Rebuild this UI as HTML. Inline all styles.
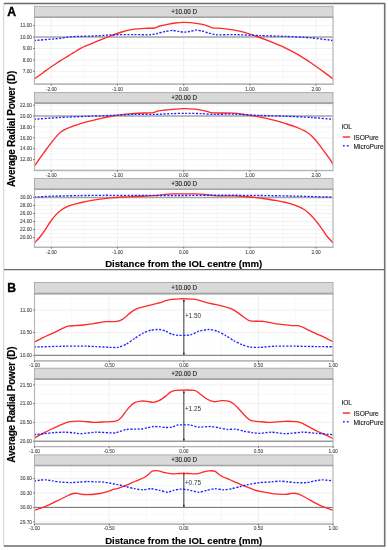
<!DOCTYPE html>
<html><head><meta charset="utf-8"><title>Average Radial Power</title>
<style>
html,body{margin:0;padding:0;background:#fff;}
body{width:388px;height:550px;overflow:hidden;}
svg{display:block;font-family:"Liberation Sans",Arial,sans-serif;}
</style></head><body>
<svg width="388" height="550" viewBox="0 0 388 550">
<rect width="388" height="550" fill="#fff"/>

<line x1="3.6" y1="3" x2="3.6" y2="546" stroke="#dcdcdc" stroke-width="1.4"/>
<line x1="4" y1="3.5" x2="385" y2="3.5" stroke="#6a6a6a" stroke-width="1.3"/>
<line x1="384.7" y1="3" x2="384.7" y2="546.5" stroke="#707070" stroke-width="1.6"/>
<line x1="4" y1="269.6" x2="385" y2="269.6" stroke="#6a6a6a" stroke-width="1.4"/>
<line x1="4" y1="546" x2="385" y2="546" stroke="#6a6a6a" stroke-width="1.4"/>

<g id="A1">
<clipPath id="cA1"><rect x="34.50" y="17.20" width="298.50" height="66.90"/></clipPath>
<g clip-path="url(#cA1)"><line x1="84.40" y1="17.20" x2="84.40" y2="84.10" stroke="#f4f4f4" stroke-width="0.6"/><line x1="150.60" y1="17.20" x2="150.60" y2="84.10" stroke="#f4f4f4" stroke-width="0.6"/><line x1="216.80" y1="17.20" x2="216.80" y2="84.10" stroke="#f4f4f4" stroke-width="0.6"/><line x1="283.00" y1="17.20" x2="283.00" y2="84.10" stroke="#f4f4f4" stroke-width="0.6"/><line x1="34.50" y1="65.60" x2="333.00" y2="65.60" stroke="#f4f4f4" stroke-width="0.6"/><line x1="34.50" y1="54.20" x2="333.00" y2="54.20" stroke="#f4f4f4" stroke-width="0.6"/><line x1="34.50" y1="42.80" x2="333.00" y2="42.80" stroke="#f4f4f4" stroke-width="0.6"/><line x1="34.50" y1="31.40" x2="333.00" y2="31.40" stroke="#f4f4f4" stroke-width="0.6"/><line x1="34.50" y1="20.00" x2="333.00" y2="20.00" stroke="#f4f4f4" stroke-width="0.6"/><line x1="34.50" y1="77.00" x2="333.00" y2="77.00" stroke="#f4f4f4" stroke-width="0.6"/><line x1="51.30" y1="17.20" x2="51.30" y2="84.10" stroke="#ececec" stroke-width="0.8"/><line x1="117.50" y1="17.20" x2="117.50" y2="84.10" stroke="#ececec" stroke-width="0.8"/><line x1="183.70" y1="17.20" x2="183.70" y2="84.10" stroke="#ececec" stroke-width="0.8"/><line x1="249.90" y1="17.20" x2="249.90" y2="84.10" stroke="#ececec" stroke-width="0.8"/><line x1="316.10" y1="17.20" x2="316.10" y2="84.10" stroke="#ececec" stroke-width="0.8"/><line x1="34.50" y1="71.30" x2="333.00" y2="71.30" stroke="#ececec" stroke-width="0.8"/><line x1="34.50" y1="59.90" x2="333.00" y2="59.90" stroke="#ececec" stroke-width="0.8"/><line x1="34.50" y1="48.50" x2="333.00" y2="48.50" stroke="#ececec" stroke-width="0.8"/><line x1="34.50" y1="37.10" x2="333.00" y2="37.10" stroke="#ececec" stroke-width="0.8"/><line x1="34.50" y1="25.70" x2="333.00" y2="25.70" stroke="#ececec" stroke-width="0.8"/>
<line x1="34.50" y1="37.10" x2="333.00" y2="37.10" stroke="#a6a6a6" stroke-width="1.5"/>
<path d="M34.00,79.20 C34.73,78.69 38.96,75.77 40.30,74.80 C41.64,73.83 44.30,71.78 45.50,70.90 C46.70,70.03 49.40,68.13 50.60,67.30 C51.80,66.47 54.60,64.60 55.80,63.80 C57.00,62.99 59.70,61.16 60.90,60.40 C62.10,59.64 64.90,58.05 66.10,57.30 C67.30,56.55 70.00,54.73 71.20,54.00 C72.40,53.27 75.30,51.66 76.40,51.00 C77.50,50.34 78.91,49.13 80.60,48.30 C82.29,47.47 88.50,44.91 90.90,43.90 C93.30,42.88 98.80,40.57 101.20,39.60 C103.60,38.63 109.08,36.49 111.50,35.60 C113.92,34.71 119.73,32.68 121.90,32.00 C124.07,31.32 128.22,30.17 130.10,29.80 C131.98,29.43 136.34,28.98 138.00,28.80 C139.66,28.62 142.36,28.39 144.30,28.30 C146.24,28.21 152.79,28.27 154.60,28.00 C156.41,27.73 158.30,26.43 159.80,26.00 C161.31,25.57 165.70,24.65 167.50,24.30 C169.30,23.95 173.39,23.22 175.20,23.00 C177.01,22.78 181.19,22.43 183.00,22.40 C184.81,22.36 188.60,22.49 190.70,22.70 C192.80,22.91 198.90,23.78 201.00,24.20 C203.10,24.62 207.35,25.87 208.70,26.30 C210.05,26.73 211.09,27.65 212.60,27.90 C214.10,28.14 219.22,28.17 221.60,28.40 C223.98,28.63 230.44,29.46 233.00,29.90 C235.56,30.34 240.70,31.43 243.50,32.20 C246.30,32.97 253.84,35.40 257.00,36.50 C260.16,37.60 267.44,40.34 270.60,41.60 C273.76,42.86 280.94,45.81 284.10,47.30 C287.26,48.79 294.54,52.57 297.70,54.40 C300.86,56.23 308.05,60.88 311.20,63.00 C314.35,65.12 322.13,70.73 324.70,72.60 C327.27,74.47 332.21,78.25 333.20,79.00" fill="none" stroke="#ff2a2a" stroke-width="1.35"/>
<path d="M34.00,40.50 C37.01,40.26 55.28,38.85 59.80,38.40 C64.31,37.95 68.20,36.90 72.70,36.60 C77.20,36.30 93.90,36.01 98.40,35.80 C102.90,35.59 107.15,34.94 111.30,34.80 C115.45,34.66 129.54,34.60 134.00,34.60 C138.46,34.60 146.79,34.93 149.50,34.80 C152.21,34.67 155.39,33.88 157.20,33.50 C159.01,33.12 163.19,31.86 165.00,31.50 C166.81,31.14 171.07,30.40 172.70,30.40 C174.33,30.40 177.65,31.29 179.00,31.50 C180.35,31.71 183.09,32.20 184.30,32.20 C185.51,32.20 188.05,31.73 189.40,31.50 C190.75,31.27 194.40,30.26 195.90,30.20 C197.41,30.14 200.81,30.67 202.30,31.00 C203.79,31.33 207.04,32.56 208.70,33.00 C210.36,33.44 213.55,34.61 216.50,34.80 C219.45,34.99 228.95,34.51 234.00,34.60 C239.05,34.69 253.79,35.39 259.80,35.60 C265.81,35.81 279.49,36.13 285.50,36.40 C291.51,36.67 305.74,37.42 311.30,37.90 C316.87,38.38 330.64,40.20 333.20,40.50" fill="none" stroke="#2222ff" stroke-width="1.35" stroke-dasharray="2.1 1.5"/>
</g>
<rect x="34.50" y="17.20" width="298.50" height="66.90" fill="none" stroke="#b8b8b8" stroke-width="1.2"/>
<line x1="33.90" y1="84.20" x2="333.60" y2="84.30" stroke="#b6b6b6" stroke-width="1.3"/>
<rect x="34.50" y="6.30" width="298.50" height="10.90" fill="#d9d9d9" stroke="#a8a8a8" stroke-width="0.9"/>
<line x1="34.50" y1="17.20" x2="333.00" y2="17.20" stroke="#a3a3a3" stroke-width="1.6"/>
<text x="184.2" y="14.16" font-size="6.30" fill="#1a1a1a" stroke="#1a1a1a" stroke-width="0.12" text-anchor="middle">+10.00 D</text>
<line x1="33.0" y1="71.30" x2="34.50" y2="71.30" stroke="#444" stroke-width="0.7"/>
<text x="32.0" y="73.02" font-size="4.80" fill="#4d4d4d" stroke="#4d4d4d" stroke-width="0.1" text-anchor="end">7.00</text>
<line x1="33.0" y1="59.90" x2="34.50" y2="59.90" stroke="#444" stroke-width="0.7"/>
<text x="32.0" y="61.62" font-size="4.80" fill="#4d4d4d" stroke="#4d4d4d" stroke-width="0.1" text-anchor="end">8.00</text>
<line x1="33.0" y1="48.50" x2="34.50" y2="48.50" stroke="#444" stroke-width="0.7"/>
<text x="32.0" y="50.22" font-size="4.80" fill="#4d4d4d" stroke="#4d4d4d" stroke-width="0.1" text-anchor="end">9.00</text>
<line x1="33.0" y1="37.10" x2="34.50" y2="37.10" stroke="#444" stroke-width="0.7"/>
<text x="32.0" y="38.82" font-size="4.80" fill="#4d4d4d" stroke="#4d4d4d" stroke-width="0.1" text-anchor="end">10.00</text>
<line x1="33.0" y1="25.70" x2="34.50" y2="25.70" stroke="#444" stroke-width="0.7"/>
<text x="32.0" y="27.42" font-size="4.80" fill="#4d4d4d" stroke="#4d4d4d" stroke-width="0.1" text-anchor="end">11.00</text>
<line x1="51.30" y1="84.10" x2="51.30" y2="85.60" stroke="#444" stroke-width="0.7"/>
<text x="51.30" y="90.52" font-size="4.80" fill="#4d4d4d" stroke="#4d4d4d" stroke-width="0.1" text-anchor="middle">-2.00</text>
<line x1="117.50" y1="84.10" x2="117.50" y2="85.60" stroke="#444" stroke-width="0.7"/>
<text x="117.50" y="90.52" font-size="4.80" fill="#4d4d4d" stroke="#4d4d4d" stroke-width="0.1" text-anchor="middle">-1.00</text>
<line x1="183.70" y1="84.10" x2="183.70" y2="85.60" stroke="#444" stroke-width="0.7"/>
<text x="183.70" y="90.52" font-size="4.80" fill="#4d4d4d" stroke="#4d4d4d" stroke-width="0.1" text-anchor="middle">0.00</text>
<line x1="249.90" y1="84.10" x2="249.90" y2="85.60" stroke="#444" stroke-width="0.7"/>
<text x="249.90" y="90.52" font-size="4.80" fill="#4d4d4d" stroke="#4d4d4d" stroke-width="0.1" text-anchor="middle">1.00</text>
<line x1="316.10" y1="84.10" x2="316.10" y2="85.60" stroke="#444" stroke-width="0.7"/>
<text x="316.10" y="90.52" font-size="4.80" fill="#4d4d4d" stroke="#4d4d4d" stroke-width="0.1" text-anchor="middle">2.00</text>
</g>
<g id="A2">
<clipPath id="cA2"><rect x="34.50" y="103.10" width="298.50" height="67.30"/></clipPath>
<g clip-path="url(#cA2)"><line x1="84.40" y1="103.10" x2="84.40" y2="170.40" stroke="#f4f4f4" stroke-width="0.6"/><line x1="150.60" y1="103.10" x2="150.60" y2="170.40" stroke="#f4f4f4" stroke-width="0.6"/><line x1="216.80" y1="103.10" x2="216.80" y2="170.40" stroke="#f4f4f4" stroke-width="0.6"/><line x1="283.00" y1="103.10" x2="283.00" y2="170.40" stroke="#f4f4f4" stroke-width="0.6"/><line x1="34.50" y1="154.15" x2="333.00" y2="154.15" stroke="#f4f4f4" stroke-width="0.6"/><line x1="34.50" y1="143.25" x2="333.00" y2="143.25" stroke="#f4f4f4" stroke-width="0.6"/><line x1="34.50" y1="132.35" x2="333.00" y2="132.35" stroke="#f4f4f4" stroke-width="0.6"/><line x1="34.50" y1="121.45" x2="333.00" y2="121.45" stroke="#f4f4f4" stroke-width="0.6"/><line x1="34.50" y1="110.55" x2="333.00" y2="110.55" stroke="#f4f4f4" stroke-width="0.6"/><line x1="34.50" y1="165.05" x2="333.00" y2="165.05" stroke="#f4f4f4" stroke-width="0.6"/><line x1="51.30" y1="103.10" x2="51.30" y2="170.40" stroke="#ececec" stroke-width="0.8"/><line x1="117.50" y1="103.10" x2="117.50" y2="170.40" stroke="#ececec" stroke-width="0.8"/><line x1="183.70" y1="103.10" x2="183.70" y2="170.40" stroke="#ececec" stroke-width="0.8"/><line x1="249.90" y1="103.10" x2="249.90" y2="170.40" stroke="#ececec" stroke-width="0.8"/><line x1="316.10" y1="103.10" x2="316.10" y2="170.40" stroke="#ececec" stroke-width="0.8"/><line x1="34.50" y1="159.60" x2="333.00" y2="159.60" stroke="#ececec" stroke-width="0.8"/><line x1="34.50" y1="148.70" x2="333.00" y2="148.70" stroke="#ececec" stroke-width="0.8"/><line x1="34.50" y1="137.80" x2="333.00" y2="137.80" stroke="#ececec" stroke-width="0.8"/><line x1="34.50" y1="126.90" x2="333.00" y2="126.90" stroke="#ececec" stroke-width="0.8"/><line x1="34.50" y1="116.00" x2="333.00" y2="116.00" stroke="#ececec" stroke-width="0.8"/><line x1="34.50" y1="105.10" x2="333.00" y2="105.10" stroke="#ececec" stroke-width="0.8"/>
<line x1="34.50" y1="116.00" x2="333.00" y2="116.00" stroke="#a6a6a6" stroke-width="1.5"/>
<path d="M34.00,166.20 C34.14,166.06 34.47,165.99 35.20,165.00 C35.94,164.01 39.10,159.39 40.30,157.70 C41.50,156.01 44.30,152.13 45.50,150.50 C46.70,148.87 49.40,145.26 50.60,143.70 C51.80,142.14 54.60,138.47 55.80,137.10 C57.00,135.73 59.70,132.96 60.90,132.00 C62.10,131.04 64.90,129.51 66.10,128.90 C67.30,128.29 69.40,127.45 71.20,126.80 C73.00,126.15 79.08,124.02 81.50,123.30 C83.92,122.58 89.48,121.21 91.90,120.60 C94.32,119.99 100.09,118.58 102.20,118.10 C104.31,117.62 107.69,116.91 110.00,116.50 C112.31,116.09 119.20,114.97 122.00,114.60 C124.80,114.23 130.79,113.50 134.00,113.30 C137.21,113.10 147.21,112.98 149.50,112.90 C151.79,112.82 152.56,112.83 153.60,112.60 C154.64,112.37 156.95,111.20 158.40,110.90 C159.85,110.60 164.35,110.19 166.00,110.00 C167.65,109.81 170.41,109.45 172.50,109.30 C174.59,109.15 181.25,108.71 183.90,108.70 C186.55,108.69 192.90,108.98 195.20,109.20 C197.50,109.42 201.72,110.20 203.60,110.60 C205.48,111.00 209.85,112.32 211.30,112.60 C212.75,112.88 213.35,112.94 216.00,113.00 C218.65,113.06 230.62,112.91 234.00,113.10 C237.38,113.29 242.55,114.25 245.00,114.60 C247.45,114.95 252.63,115.69 255.00,116.10 C257.37,116.51 262.90,117.57 265.30,118.10 C267.70,118.62 273.20,119.95 275.60,120.60 C278.00,121.25 283.50,122.93 285.90,123.70 C288.30,124.47 293.80,126.23 296.20,127.20 C298.60,128.17 304.57,130.84 306.50,132.00 C308.43,133.16 311.25,135.66 312.70,137.10 C314.15,138.53 317.45,142.49 318.90,144.30 C320.35,146.11 323.77,150.79 325.10,152.60 C326.43,154.41 329.33,158.35 330.30,159.80 C331.27,161.25 333.04,164.39 333.40,165.00" fill="none" stroke="#ff2a2a" stroke-width="1.35"/>
<path d="M34.00,119.30 C37.01,119.09 53.79,117.84 59.80,117.50 C65.81,117.16 79.49,116.65 85.50,116.40 C91.51,116.16 105.64,115.63 111.30,115.40 C116.96,115.17 128.95,114.52 134.00,114.40 C139.05,114.28 150.09,114.49 154.60,114.40 C159.11,114.31 169.09,113.73 172.70,113.60 C176.30,113.47 182.20,113.30 185.50,113.30 C188.80,113.30 197.69,113.47 201.00,113.60 C204.31,113.73 210.05,114.34 213.90,114.40 C217.75,114.46 228.65,113.98 234.00,114.10 C239.35,114.22 253.79,115.16 259.80,115.40 C265.81,115.65 279.49,115.95 285.50,116.20 C291.51,116.45 305.74,117.14 311.30,117.50 C316.87,117.86 330.64,119.09 333.20,119.30" fill="none" stroke="#2222ff" stroke-width="1.35" stroke-dasharray="2.1 1.5"/>
</g>
<rect x="34.50" y="103.10" width="298.50" height="67.30" fill="none" stroke="#b8b8b8" stroke-width="1.2"/>
<line x1="33.90" y1="170.50" x2="333.60" y2="170.60" stroke="#b6b6b6" stroke-width="1.3"/>
<rect x="34.50" y="92.60" width="298.50" height="10.50" fill="#d9d9d9" stroke="#a8a8a8" stroke-width="0.9"/>
<line x1="34.50" y1="103.10" x2="333.00" y2="103.10" stroke="#a3a3a3" stroke-width="1.6"/>
<text x="184.2" y="100.16" font-size="6.30" fill="#1a1a1a" stroke="#1a1a1a" stroke-width="0.12" text-anchor="middle">+20.00 D</text>
<line x1="33.0" y1="159.60" x2="34.50" y2="159.60" stroke="#444" stroke-width="0.7"/>
<text x="32.0" y="161.32" font-size="4.80" fill="#4d4d4d" stroke="#4d4d4d" stroke-width="0.1" text-anchor="end">12.00</text>
<line x1="33.0" y1="148.70" x2="34.50" y2="148.70" stroke="#444" stroke-width="0.7"/>
<text x="32.0" y="150.42" font-size="4.80" fill="#4d4d4d" stroke="#4d4d4d" stroke-width="0.1" text-anchor="end">14.00</text>
<line x1="33.0" y1="137.80" x2="34.50" y2="137.80" stroke="#444" stroke-width="0.7"/>
<text x="32.0" y="139.52" font-size="4.80" fill="#4d4d4d" stroke="#4d4d4d" stroke-width="0.1" text-anchor="end">16.00</text>
<line x1="33.0" y1="126.90" x2="34.50" y2="126.90" stroke="#444" stroke-width="0.7"/>
<text x="32.0" y="128.62" font-size="4.80" fill="#4d4d4d" stroke="#4d4d4d" stroke-width="0.1" text-anchor="end">18.00</text>
<line x1="33.0" y1="116.00" x2="34.50" y2="116.00" stroke="#444" stroke-width="0.7"/>
<text x="32.0" y="117.72" font-size="4.80" fill="#4d4d4d" stroke="#4d4d4d" stroke-width="0.1" text-anchor="end">20.00</text>
<line x1="33.0" y1="105.10" x2="34.50" y2="105.10" stroke="#444" stroke-width="0.7"/>
<text x="32.0" y="106.82" font-size="4.80" fill="#4d4d4d" stroke="#4d4d4d" stroke-width="0.1" text-anchor="end">22.00</text>
<line x1="51.30" y1="170.40" x2="51.30" y2="171.90" stroke="#444" stroke-width="0.7"/>
<text x="51.30" y="176.82" font-size="4.80" fill="#4d4d4d" stroke="#4d4d4d" stroke-width="0.1" text-anchor="middle">-2.00</text>
<line x1="117.50" y1="170.40" x2="117.50" y2="171.90" stroke="#444" stroke-width="0.7"/>
<text x="117.50" y="176.82" font-size="4.80" fill="#4d4d4d" stroke="#4d4d4d" stroke-width="0.1" text-anchor="middle">-1.00</text>
<line x1="183.70" y1="170.40" x2="183.70" y2="171.90" stroke="#444" stroke-width="0.7"/>
<text x="183.70" y="176.82" font-size="4.80" fill="#4d4d4d" stroke="#4d4d4d" stroke-width="0.1" text-anchor="middle">0.00</text>
<line x1="249.90" y1="170.40" x2="249.90" y2="171.90" stroke="#444" stroke-width="0.7"/>
<text x="249.90" y="176.82" font-size="4.80" fill="#4d4d4d" stroke="#4d4d4d" stroke-width="0.1" text-anchor="middle">1.00</text>
<line x1="316.10" y1="170.40" x2="316.10" y2="171.90" stroke="#444" stroke-width="0.7"/>
<text x="316.10" y="176.82" font-size="4.80" fill="#4d4d4d" stroke="#4d4d4d" stroke-width="0.1" text-anchor="middle">2.00</text>
</g>
<g id="A3">
<clipPath id="cA3"><rect x="34.50" y="189.30" width="298.50" height="57.90"/></clipPath>
<g clip-path="url(#cA3)"><line x1="84.40" y1="189.30" x2="84.40" y2="247.20" stroke="#f4f4f4" stroke-width="0.6"/><line x1="150.60" y1="189.30" x2="150.60" y2="247.20" stroke="#f4f4f4" stroke-width="0.6"/><line x1="216.80" y1="189.30" x2="216.80" y2="247.20" stroke="#f4f4f4" stroke-width="0.6"/><line x1="283.00" y1="189.30" x2="283.00" y2="247.20" stroke="#f4f4f4" stroke-width="0.6"/><line x1="34.50" y1="233.58" x2="333.00" y2="233.58" stroke="#f4f4f4" stroke-width="0.6"/><line x1="34.50" y1="225.54" x2="333.00" y2="225.54" stroke="#f4f4f4" stroke-width="0.6"/><line x1="34.50" y1="217.50" x2="333.00" y2="217.50" stroke="#f4f4f4" stroke-width="0.6"/><line x1="34.50" y1="209.46" x2="333.00" y2="209.46" stroke="#f4f4f4" stroke-width="0.6"/><line x1="34.50" y1="201.42" x2="333.00" y2="201.42" stroke="#f4f4f4" stroke-width="0.6"/><line x1="34.50" y1="193.38" x2="333.00" y2="193.38" stroke="#f4f4f4" stroke-width="0.6"/><line x1="34.50" y1="241.62" x2="333.00" y2="241.62" stroke="#f4f4f4" stroke-width="0.6"/><line x1="51.30" y1="189.30" x2="51.30" y2="247.20" stroke="#ececec" stroke-width="0.8"/><line x1="117.50" y1="189.30" x2="117.50" y2="247.20" stroke="#ececec" stroke-width="0.8"/><line x1="183.70" y1="189.30" x2="183.70" y2="247.20" stroke="#ececec" stroke-width="0.8"/><line x1="249.90" y1="189.30" x2="249.90" y2="247.20" stroke="#ececec" stroke-width="0.8"/><line x1="316.10" y1="189.30" x2="316.10" y2="247.20" stroke="#ececec" stroke-width="0.8"/><line x1="34.50" y1="237.60" x2="333.00" y2="237.60" stroke="#ececec" stroke-width="0.8"/><line x1="34.50" y1="229.56" x2="333.00" y2="229.56" stroke="#ececec" stroke-width="0.8"/><line x1="34.50" y1="221.52" x2="333.00" y2="221.52" stroke="#ececec" stroke-width="0.8"/><line x1="34.50" y1="213.48" x2="333.00" y2="213.48" stroke="#ececec" stroke-width="0.8"/><line x1="34.50" y1="205.44" x2="333.00" y2="205.44" stroke="#ececec" stroke-width="0.8"/><line x1="34.50" y1="197.40" x2="333.00" y2="197.40" stroke="#ececec" stroke-width="0.8"/>
<line x1="34.50" y1="197.40" x2="333.00" y2="197.40" stroke="#a6a6a6" stroke-width="1.5"/>
<path d="M34.00,243.20 C34.14,243.07 34.47,242.88 35.20,242.10 C35.94,241.32 39.10,237.99 40.30,236.50 C41.50,235.01 44.30,231.05 45.50,229.30 C46.70,227.55 49.40,223.18 50.60,221.50 C51.80,219.82 54.60,216.21 55.80,214.90 C57.00,213.59 59.70,211.20 60.90,210.30 C62.10,209.40 64.90,207.79 66.10,207.20 C67.30,206.60 69.40,205.75 71.20,205.20 C73.00,204.65 79.08,203.06 81.50,202.50 C83.92,201.94 89.48,200.83 91.90,200.40 C94.32,199.97 100.09,199.09 102.20,198.80 C104.31,198.51 107.69,198.11 110.00,197.90 C112.31,197.69 119.20,197.16 122.00,197.00 C124.80,196.84 130.73,196.63 134.00,196.50 C137.27,196.37 147.20,196.04 150.00,195.90 C152.80,195.76 156.25,195.49 158.00,195.30 C159.75,195.11 163.37,194.46 165.00,194.30 C166.63,194.14 169.78,193.96 172.00,193.90 C174.22,193.84 181.20,193.80 184.00,193.80 C186.80,193.80 193.67,193.83 196.00,193.90 C198.33,193.97 202.13,194.24 204.00,194.40 C205.87,194.56 210.13,195.12 212.00,195.30 C213.87,195.48 217.43,195.83 220.00,195.90 C222.57,195.97 231.08,195.82 234.00,195.90 C236.92,195.98 242.55,196.44 245.00,196.60 C247.45,196.76 252.63,197.04 255.00,197.30 C257.37,197.56 262.90,198.44 265.30,198.80 C267.70,199.16 273.20,199.97 275.60,200.40 C278.00,200.83 283.50,201.89 285.90,202.50 C288.30,203.11 294.03,204.76 296.20,205.60 C298.37,206.44 302.81,208.61 304.50,209.70 C306.19,210.78 309.25,213.45 310.70,214.90 C312.15,216.35 315.46,220.30 316.90,222.10 C318.33,223.90 321.80,228.62 323.00,230.30 C324.20,231.98 326.12,235.12 327.20,236.50 C328.28,237.88 331.56,241.32 332.30,242.10 C333.04,242.88 333.36,243.07 333.50,243.20" fill="none" stroke="#ff2a2a" stroke-width="1.35"/>
<path d="M34.00,197.10 C36.10,197.00 46.75,196.38 52.00,196.20 C57.25,196.02 72.93,195.70 79.00,195.60 C85.07,195.50 96.88,195.32 104.00,195.30 C111.12,195.28 131.13,195.38 140.00,195.40 C148.87,195.42 170.67,195.52 180.00,195.50 C189.33,195.48 210.67,195.20 220.00,195.20 C229.33,195.20 250.67,195.38 260.00,195.50 C269.33,195.62 291.46,196.00 300.00,196.20 C308.54,196.40 329.33,197.08 333.20,197.20" fill="none" stroke="#2222ff" stroke-width="1.35" stroke-dasharray="2.1 1.5"/>
</g>
<rect x="34.50" y="189.30" width="298.50" height="57.90" fill="none" stroke="#b8b8b8" stroke-width="1.2"/>
<line x1="33.90" y1="247.30" x2="333.60" y2="247.40" stroke="#b6b6b6" stroke-width="1.3"/>
<rect x="34.50" y="178.40" width="298.50" height="10.90" fill="#d9d9d9" stroke="#a8a8a8" stroke-width="0.9"/>
<line x1="34.50" y1="189.30" x2="333.00" y2="189.30" stroke="#a3a3a3" stroke-width="1.6"/>
<text x="184.2" y="186.16" font-size="6.30" fill="#1a1a1a" stroke="#1a1a1a" stroke-width="0.12" text-anchor="middle">+30.00 D</text>
<line x1="33.0" y1="237.60" x2="34.50" y2="237.60" stroke="#444" stroke-width="0.7"/>
<text x="32.0" y="239.32" font-size="4.80" fill="#4d4d4d" stroke="#4d4d4d" stroke-width="0.1" text-anchor="end">20.00</text>
<line x1="33.0" y1="229.56" x2="34.50" y2="229.56" stroke="#444" stroke-width="0.7"/>
<text x="32.0" y="231.28" font-size="4.80" fill="#4d4d4d" stroke="#4d4d4d" stroke-width="0.1" text-anchor="end">22.00</text>
<line x1="33.0" y1="221.52" x2="34.50" y2="221.52" stroke="#444" stroke-width="0.7"/>
<text x="32.0" y="223.24" font-size="4.80" fill="#4d4d4d" stroke="#4d4d4d" stroke-width="0.1" text-anchor="end">24.00</text>
<line x1="33.0" y1="213.48" x2="34.50" y2="213.48" stroke="#444" stroke-width="0.7"/>
<text x="32.0" y="215.20" font-size="4.80" fill="#4d4d4d" stroke="#4d4d4d" stroke-width="0.1" text-anchor="end">26.00</text>
<line x1="33.0" y1="205.44" x2="34.50" y2="205.44" stroke="#444" stroke-width="0.7"/>
<text x="32.0" y="207.16" font-size="4.80" fill="#4d4d4d" stroke="#4d4d4d" stroke-width="0.1" text-anchor="end">28.00</text>
<line x1="33.0" y1="197.40" x2="34.50" y2="197.40" stroke="#444" stroke-width="0.7"/>
<text x="32.0" y="199.12" font-size="4.80" fill="#4d4d4d" stroke="#4d4d4d" stroke-width="0.1" text-anchor="end">30.00</text>
<line x1="51.30" y1="247.20" x2="51.30" y2="248.70" stroke="#444" stroke-width="0.7"/>
<text x="51.30" y="253.62" font-size="4.80" fill="#4d4d4d" stroke="#4d4d4d" stroke-width="0.1" text-anchor="middle">-2.00</text>
<line x1="117.50" y1="247.20" x2="117.50" y2="248.70" stroke="#444" stroke-width="0.7"/>
<text x="117.50" y="253.62" font-size="4.80" fill="#4d4d4d" stroke="#4d4d4d" stroke-width="0.1" text-anchor="middle">-1.00</text>
<line x1="183.70" y1="247.20" x2="183.70" y2="248.70" stroke="#444" stroke-width="0.7"/>
<text x="183.70" y="253.62" font-size="4.80" fill="#4d4d4d" stroke="#4d4d4d" stroke-width="0.1" text-anchor="middle">0.00</text>
<line x1="249.90" y1="247.20" x2="249.90" y2="248.70" stroke="#444" stroke-width="0.7"/>
<text x="249.90" y="253.62" font-size="4.80" fill="#4d4d4d" stroke="#4d4d4d" stroke-width="0.1" text-anchor="middle">1.00</text>
<line x1="316.10" y1="247.20" x2="316.10" y2="248.70" stroke="#444" stroke-width="0.7"/>
<text x="316.10" y="253.62" font-size="4.80" fill="#4d4d4d" stroke="#4d4d4d" stroke-width="0.1" text-anchor="middle">2.00</text>
</g>
<g id="B1">
<clipPath id="cB1"><rect x="34.50" y="293.60" width="298.50" height="67.20"/></clipPath>
<g clip-path="url(#cB1)"><line x1="71.83" y1="293.60" x2="71.83" y2="360.80" stroke="#f4f4f4" stroke-width="0.6"/><line x1="146.48" y1="293.60" x2="146.48" y2="360.80" stroke="#f4f4f4" stroke-width="0.6"/><line x1="221.12" y1="293.60" x2="221.12" y2="360.80" stroke="#f4f4f4" stroke-width="0.6"/><line x1="295.78" y1="293.60" x2="295.78" y2="360.80" stroke="#f4f4f4" stroke-width="0.6"/><line x1="34.50" y1="343.98" x2="333.00" y2="343.98" stroke="#f4f4f4" stroke-width="0.6"/><line x1="34.50" y1="321.33" x2="333.00" y2="321.33" stroke="#f4f4f4" stroke-width="0.6"/><line x1="34.50" y1="298.68" x2="333.00" y2="298.68" stroke="#f4f4f4" stroke-width="0.6"/><line x1="34.50" y1="293.60" x2="34.50" y2="360.80" stroke="#ececec" stroke-width="0.8"/><line x1="109.15" y1="293.60" x2="109.15" y2="360.80" stroke="#ececec" stroke-width="0.8"/><line x1="183.80" y1="293.60" x2="183.80" y2="360.80" stroke="#ececec" stroke-width="0.8"/><line x1="258.45" y1="293.60" x2="258.45" y2="360.80" stroke="#ececec" stroke-width="0.8"/><line x1="333.10" y1="293.60" x2="333.10" y2="360.80" stroke="#ececec" stroke-width="0.8"/><line x1="34.50" y1="355.30" x2="333.00" y2="355.30" stroke="#ececec" stroke-width="0.8"/><line x1="34.50" y1="332.65" x2="333.00" y2="332.65" stroke="#ececec" stroke-width="0.8"/><line x1="34.50" y1="310.00" x2="333.00" y2="310.00" stroke="#ececec" stroke-width="0.8"/>
<line x1="34.50" y1="355.30" x2="333.00" y2="355.30" stroke="#6e6e6e" stroke-width="1"/>
<line x1="183.8" y1="299.80" x2="183.8" y2="354.80" stroke="#5a5a5a" stroke-width="1.2"/>
<rect x="183.0" y="300.10" width="1.6" height="1.8" fill="#333"/>
<rect x="183.0" y="352.70" width="1.6" height="1.8" fill="#333"/>
<path d="M34.00,342.20 C34.72,341.84 38.75,339.82 40.20,339.10 C41.65,338.38 44.72,336.79 46.40,336.00 C48.08,335.21 52.68,333.21 54.60,332.30 C56.52,331.39 61.34,328.92 62.90,328.20 C64.46,327.48 66.56,326.40 68.00,326.10 C69.44,325.80 73.39,325.73 75.20,325.60 C77.01,325.47 81.33,325.23 83.50,325.00 C85.67,324.77 91.64,323.93 93.80,323.60 C95.96,323.27 100.55,322.42 102.00,322.20 C103.45,321.98 104.80,321.77 106.20,321.70 C107.60,321.63 112.60,321.67 114.00,321.60 C115.40,321.53 117.22,321.36 118.20,321.10 C119.18,320.84 121.43,319.96 122.40,319.40 C123.37,318.84 125.54,317.09 126.50,316.30 C127.46,315.51 129.64,313.35 130.60,312.60 C131.56,311.85 133.73,310.45 134.70,309.90 C135.67,309.35 137.69,308.31 138.90,307.90 C140.11,307.49 143.66,306.76 145.10,306.40 C146.53,306.04 149.76,305.16 151.20,304.80 C152.63,304.44 156.20,303.59 157.40,303.30 C158.60,303.01 160.53,302.60 161.50,302.30 C162.47,302.00 164.49,301.04 165.70,300.70 C166.91,300.36 170.22,299.62 171.90,299.40 C173.58,299.18 177.71,298.82 180.10,298.80 C182.49,298.78 190.24,299.04 192.40,299.20 C194.56,299.36 196.92,299.79 198.60,300.20 C200.28,300.61 204.88,302.21 206.80,302.70 C208.73,303.19 213.17,303.97 215.10,304.40 C217.03,304.83 221.39,305.88 223.30,306.40 C225.21,306.92 229.82,308.18 231.50,308.90 C233.18,309.62 236.25,311.63 237.70,312.60 C239.15,313.57 242.45,316.23 243.90,317.20 C245.35,318.17 248.22,320.42 250.10,320.90 C251.98,321.38 258.47,321.25 260.00,321.30 C261.53,321.35 261.61,321.07 263.20,321.30 C264.79,321.53 271.19,322.92 273.60,323.30 C276.02,323.69 281.74,324.33 283.90,324.60 C286.06,324.87 290.42,325.48 292.10,325.60 C293.78,325.72 297.10,325.43 298.30,325.60 C299.50,325.78 300.95,326.45 302.40,327.10 C303.85,327.75 308.53,330.20 310.70,331.20 C312.87,332.20 318.40,334.47 321.00,335.70 C323.60,336.93 331.60,341.00 333.00,341.70" fill="none" stroke="#ff2a2a" stroke-width="1.35"/>
<path d="M34.00,347.00 C37.61,346.91 58.89,346.29 64.90,346.20 C70.91,346.11 81.88,346.15 85.50,346.20 C89.12,346.25 93.04,346.47 95.90,346.60 C98.76,346.73 107.40,347.22 110.00,347.30 C112.60,347.38 116.28,347.69 118.20,347.30 C120.12,346.92 124.58,345.04 126.50,344.00 C128.43,342.96 132.77,339.66 134.70,338.40 C136.62,337.14 141.07,334.17 143.00,333.20 C144.93,332.23 149.27,330.53 151.20,330.10 C153.12,329.67 157.81,329.37 159.50,329.50 C161.19,329.63 164.25,330.64 165.70,331.20 C167.15,331.76 170.47,333.82 171.90,334.30 C173.34,334.78 175.85,335.23 178.00,335.30 C180.15,335.37 187.90,335.38 190.30,334.90 C192.70,334.42 196.43,331.83 198.60,331.20 C200.77,330.57 206.74,329.50 208.90,329.50 C211.06,329.50 215.17,330.52 217.10,331.20 C219.03,331.88 223.47,334.22 225.40,335.30 C227.33,336.38 231.67,339.42 233.60,340.50 C235.53,341.58 239.97,343.83 241.90,344.60 C243.83,345.37 247.99,346.79 250.10,347.10 C252.21,347.42 257.02,347.41 260.00,347.30 C262.98,347.19 271.38,346.33 275.60,346.20 C279.82,346.07 291.38,346.15 296.20,346.20 C301.02,346.25 312.61,346.53 316.90,346.60 C321.19,346.67 331.12,346.78 333.00,346.80" fill="none" stroke="#2222ff" stroke-width="1.35" stroke-dasharray="2.1 1.5"/>
</g>
<text x="184.9" y="318.09" font-size="6.4" fill="#333">+1.50</text>
<rect x="34.50" y="293.60" width="298.50" height="67.20" fill="none" stroke="#b8b8b8" stroke-width="1.2"/>
<line x1="33.90" y1="360.90" x2="333.60" y2="361.00" stroke="#b6b6b6" stroke-width="1.3"/>
<rect x="34.50" y="282.50" width="298.50" height="11.10" fill="#d9d9d9" stroke="#a8a8a8" stroke-width="0.9"/>
<line x1="34.50" y1="293.60" x2="333.00" y2="293.60" stroke="#a3a3a3" stroke-width="1.6"/>
<text x="184.2" y="290.26" font-size="6.30" fill="#1a1a1a" stroke="#1a1a1a" stroke-width="0.12" text-anchor="middle">+10.00 D</text>
<line x1="33.0" y1="355.30" x2="34.50" y2="355.30" stroke="#444" stroke-width="0.7"/>
<text x="32.0" y="357.02" font-size="4.80" fill="#4d4d4d" stroke="#4d4d4d" stroke-width="0.1" text-anchor="end">10.00</text>
<line x1="33.0" y1="332.65" x2="34.50" y2="332.65" stroke="#444" stroke-width="0.7"/>
<text x="32.0" y="334.37" font-size="4.80" fill="#4d4d4d" stroke="#4d4d4d" stroke-width="0.1" text-anchor="end">10.50</text>
<line x1="33.0" y1="310.00" x2="34.50" y2="310.00" stroke="#444" stroke-width="0.7"/>
<text x="32.0" y="311.72" font-size="4.80" fill="#4d4d4d" stroke="#4d4d4d" stroke-width="0.1" text-anchor="end">11.00</text>
<line x1="34.50" y1="360.80" x2="34.50" y2="362.30" stroke="#444" stroke-width="0.7"/>
<text x="34.50" y="367.22" font-size="4.80" fill="#4d4d4d" stroke="#4d4d4d" stroke-width="0.1" text-anchor="middle">-1.00</text>
<line x1="109.15" y1="360.80" x2="109.15" y2="362.30" stroke="#444" stroke-width="0.7"/>
<text x="109.15" y="367.22" font-size="4.80" fill="#4d4d4d" stroke="#4d4d4d" stroke-width="0.1" text-anchor="middle">-0.50</text>
<line x1="183.80" y1="360.80" x2="183.80" y2="362.30" stroke="#444" stroke-width="0.7"/>
<text x="183.80" y="367.22" font-size="4.80" fill="#4d4d4d" stroke="#4d4d4d" stroke-width="0.1" text-anchor="middle">0.00</text>
<line x1="258.45" y1="360.80" x2="258.45" y2="362.30" stroke="#444" stroke-width="0.7"/>
<text x="258.45" y="367.22" font-size="4.80" fill="#4d4d4d" stroke="#4d4d4d" stroke-width="0.1" text-anchor="middle">0.50</text>
<line x1="333.10" y1="360.80" x2="333.10" y2="362.30" stroke="#444" stroke-width="0.7"/>
<text x="333.10" y="367.22" font-size="4.80" fill="#4d4d4d" stroke="#4d4d4d" stroke-width="0.1" text-anchor="middle">1.00</text>
</g>
<g id="B2">
<clipPath id="cB2"><rect x="34.50" y="379.10" width="298.50" height="67.40"/></clipPath>
<g clip-path="url(#cB2)"><line x1="71.83" y1="379.10" x2="71.83" y2="446.50" stroke="#f4f4f4" stroke-width="0.6"/><line x1="146.48" y1="379.10" x2="146.48" y2="446.50" stroke="#f4f4f4" stroke-width="0.6"/><line x1="221.12" y1="379.10" x2="221.12" y2="446.50" stroke="#f4f4f4" stroke-width="0.6"/><line x1="295.78" y1="379.10" x2="295.78" y2="446.50" stroke="#f4f4f4" stroke-width="0.6"/><line x1="34.50" y1="431.80" x2="333.00" y2="431.80" stroke="#f4f4f4" stroke-width="0.6"/><line x1="34.50" y1="413.00" x2="333.00" y2="413.00" stroke="#f4f4f4" stroke-width="0.6"/><line x1="34.50" y1="394.20" x2="333.00" y2="394.20" stroke="#f4f4f4" stroke-width="0.6"/><line x1="34.50" y1="379.10" x2="34.50" y2="446.50" stroke="#ececec" stroke-width="0.8"/><line x1="109.15" y1="379.10" x2="109.15" y2="446.50" stroke="#ececec" stroke-width="0.8"/><line x1="183.80" y1="379.10" x2="183.80" y2="446.50" stroke="#ececec" stroke-width="0.8"/><line x1="258.45" y1="379.10" x2="258.45" y2="446.50" stroke="#ececec" stroke-width="0.8"/><line x1="333.10" y1="379.10" x2="333.10" y2="446.50" stroke="#ececec" stroke-width="0.8"/><line x1="34.50" y1="441.20" x2="333.00" y2="441.20" stroke="#ececec" stroke-width="0.8"/><line x1="34.50" y1="422.40" x2="333.00" y2="422.40" stroke="#ececec" stroke-width="0.8"/><line x1="34.50" y1="403.60" x2="333.00" y2="403.60" stroke="#ececec" stroke-width="0.8"/><line x1="34.50" y1="384.80" x2="333.00" y2="384.80" stroke="#ececec" stroke-width="0.8"/>
<line x1="34.50" y1="441.20" x2="333.00" y2="441.20" stroke="#6e6e6e" stroke-width="1"/>
<line x1="183.8" y1="391.30" x2="183.8" y2="440.70" stroke="#5a5a5a" stroke-width="1.2"/>
<rect x="183.0" y="391.60" width="1.6" height="1.8" fill="#333"/>
<rect x="183.0" y="438.60" width="1.6" height="1.8" fill="#333"/>
<path d="M34.00,438.20 C34.96,437.68 40.28,434.71 42.20,433.70 C44.12,432.69 48.58,430.42 50.50,429.50 C52.42,428.58 56.78,426.64 58.70,425.80 C60.62,424.96 65.31,422.82 67.00,422.30 C68.69,421.78 71.28,421.42 73.20,421.30 C75.12,421.18 81.10,421.18 83.50,421.30 C85.90,421.42 91.40,422.23 93.80,422.30 C96.20,422.37 101.74,422.02 104.10,421.90 C106.46,421.78 112.36,421.49 114.00,421.30 C115.64,421.11 117.22,420.91 118.20,420.30 C119.18,419.69 121.19,417.55 122.40,416.10 C123.61,414.65 127.16,409.46 128.60,407.90 C130.03,406.34 133.26,403.49 134.70,402.70 C136.13,401.91 139.45,401.26 140.90,401.10 C142.35,400.94 145.65,401.16 147.10,401.30 C148.55,401.44 151.85,402.42 153.30,402.30 C154.75,402.18 158.05,401.02 159.50,400.30 C160.95,399.58 164.38,397.09 165.70,396.10 C167.02,395.11 169.60,392.47 170.80,391.80 C172.00,391.13 173.25,390.56 176.00,390.40 C178.75,390.24 191.53,389.92 194.40,390.40 C197.27,390.88 199.15,393.50 200.60,394.50 C202.05,395.50 205.24,398.16 206.80,399.00 C208.36,399.84 212.32,401.50 214.00,401.70 C215.68,401.90 219.51,400.77 221.20,400.70 C222.89,400.63 227.05,400.74 228.50,401.10 C229.95,401.46 232.28,402.76 233.60,403.80 C234.92,404.84 238.35,408.48 239.80,410.00 C241.25,411.52 244.68,415.55 246.00,416.80 C247.32,418.05 249.47,420.13 251.10,420.70 C252.73,421.27 257.87,421.51 260.00,421.70 C262.13,421.89 266.61,422.35 269.40,422.30 C272.19,422.25 280.77,421.37 283.90,421.30 C287.03,421.23 294.04,421.45 296.20,421.70 C298.36,421.94 300.71,422.68 302.40,423.40 C304.09,424.12 308.77,426.90 310.70,427.90 C312.62,428.90 317.22,431.21 318.90,432.00 C320.58,432.79 323.46,433.93 325.10,434.70 C326.75,435.47 332.08,438.15 333.00,438.60" fill="none" stroke="#ff2a2a" stroke-width="1.35"/>
<path d="M34.00,434.70 C35.20,434.58 41.90,433.94 44.30,433.70 C46.70,433.45 52.20,432.78 54.60,432.60 C57.00,432.43 62.50,432.15 64.90,432.20 C67.30,432.25 73.28,432.82 75.20,433.00 C77.12,433.18 78.98,433.79 81.40,433.70 C83.82,433.61 92.10,432.28 95.90,432.20 C99.70,432.12 111.40,433.02 114.00,433.00 C116.60,432.98 116.74,432.41 118.20,432.00 C119.66,431.59 124.58,429.84 126.50,429.50 C128.43,429.16 133.02,429.15 134.70,429.10 C136.38,429.05 139.45,429.24 140.90,429.10 C142.35,428.96 145.65,428.20 147.10,427.90 C148.55,427.60 151.85,426.64 153.30,426.50 C154.75,426.36 158.05,426.58 159.50,426.70 C160.95,426.82 164.25,427.45 165.70,427.50 C167.15,427.55 170.47,427.39 171.90,427.10 C173.34,426.81 175.85,425.25 178.00,425.00 C180.15,424.75 187.90,424.75 190.30,425.00 C192.70,425.25 196.20,426.93 198.60,427.10 C201.00,427.28 208.50,426.41 210.90,426.50 C213.30,426.59 217.27,427.55 219.20,427.90 C221.12,428.25 225.47,429.36 227.40,429.50 C229.33,429.64 233.77,428.90 235.70,429.10 C237.62,429.30 241.97,430.79 243.90,431.20 C245.83,431.61 250.32,432.36 252.20,432.60 C254.08,432.85 257.75,433.35 260.00,433.30 C262.25,433.25 268.48,432.15 271.50,432.20 C274.52,432.25 282.29,433.70 285.90,433.70 C289.50,433.70 298.78,432.25 302.40,432.20 C306.02,432.15 313.33,433.01 316.90,433.30 C320.47,433.59 331.12,434.54 333.00,434.70" fill="none" stroke="#2222ff" stroke-width="1.35" stroke-dasharray="2.1 1.5"/>
</g>
<text x="184.9" y="410.79" font-size="6.4" fill="#333">+1.25</text>
<rect x="34.50" y="379.10" width="298.50" height="67.40" fill="none" stroke="#b8b8b8" stroke-width="1.2"/>
<line x1="33.90" y1="446.60" x2="333.60" y2="446.70" stroke="#b6b6b6" stroke-width="1.3"/>
<rect x="34.50" y="368.20" width="298.50" height="10.90" fill="#d9d9d9" stroke="#a8a8a8" stroke-width="0.9"/>
<line x1="34.50" y1="379.10" x2="333.00" y2="379.10" stroke="#a3a3a3" stroke-width="1.6"/>
<text x="184.2" y="375.96" font-size="6.30" fill="#1a1a1a" stroke="#1a1a1a" stroke-width="0.12" text-anchor="middle">+20.00 D</text>
<line x1="33.0" y1="441.20" x2="34.50" y2="441.20" stroke="#444" stroke-width="0.7"/>
<text x="32.0" y="442.92" font-size="4.80" fill="#4d4d4d" stroke="#4d4d4d" stroke-width="0.1" text-anchor="end">20.00</text>
<line x1="33.0" y1="422.40" x2="34.50" y2="422.40" stroke="#444" stroke-width="0.7"/>
<text x="32.0" y="424.12" font-size="4.80" fill="#4d4d4d" stroke="#4d4d4d" stroke-width="0.1" text-anchor="end">20.50</text>
<line x1="33.0" y1="403.60" x2="34.50" y2="403.60" stroke="#444" stroke-width="0.7"/>
<text x="32.0" y="405.32" font-size="4.80" fill="#4d4d4d" stroke="#4d4d4d" stroke-width="0.1" text-anchor="end">21.00</text>
<line x1="33.0" y1="384.80" x2="34.50" y2="384.80" stroke="#444" stroke-width="0.7"/>
<text x="32.0" y="386.52" font-size="4.80" fill="#4d4d4d" stroke="#4d4d4d" stroke-width="0.1" text-anchor="end">21.50</text>
<line x1="34.50" y1="446.50" x2="34.50" y2="448.00" stroke="#444" stroke-width="0.7"/>
<text x="34.50" y="452.92" font-size="4.80" fill="#4d4d4d" stroke="#4d4d4d" stroke-width="0.1" text-anchor="middle">-1.00</text>
<line x1="109.15" y1="446.50" x2="109.15" y2="448.00" stroke="#444" stroke-width="0.7"/>
<text x="109.15" y="452.92" font-size="4.80" fill="#4d4d4d" stroke="#4d4d4d" stroke-width="0.1" text-anchor="middle">-0.50</text>
<line x1="183.80" y1="446.50" x2="183.80" y2="448.00" stroke="#444" stroke-width="0.7"/>
<text x="183.80" y="452.92" font-size="4.80" fill="#4d4d4d" stroke="#4d4d4d" stroke-width="0.1" text-anchor="middle">0.00</text>
<line x1="258.45" y1="446.50" x2="258.45" y2="448.00" stroke="#444" stroke-width="0.7"/>
<text x="258.45" y="452.92" font-size="4.80" fill="#4d4d4d" stroke="#4d4d4d" stroke-width="0.1" text-anchor="middle">0.50</text>
<line x1="333.10" y1="446.50" x2="333.10" y2="448.00" stroke="#444" stroke-width="0.7"/>
<text x="333.10" y="452.92" font-size="4.80" fill="#4d4d4d" stroke="#4d4d4d" stroke-width="0.1" text-anchor="middle">1.00</text>
</g>
<g id="B3">
<clipPath id="cB3"><rect x="34.50" y="465.50" width="298.50" height="58.50"/></clipPath>
<g clip-path="url(#cB3)"><line x1="71.83" y1="465.50" x2="71.83" y2="524.00" stroke="#f4f4f4" stroke-width="0.6"/><line x1="146.48" y1="465.50" x2="146.48" y2="524.00" stroke="#f4f4f4" stroke-width="0.6"/><line x1="221.12" y1="465.50" x2="221.12" y2="524.00" stroke="#f4f4f4" stroke-width="0.6"/><line x1="295.78" y1="465.50" x2="295.78" y2="524.00" stroke="#f4f4f4" stroke-width="0.6"/><line x1="34.50" y1="514.60" x2="333.00" y2="514.60" stroke="#f4f4f4" stroke-width="0.6"/><line x1="34.50" y1="500.20" x2="333.00" y2="500.20" stroke="#f4f4f4" stroke-width="0.6"/><line x1="34.50" y1="485.80" x2="333.00" y2="485.80" stroke="#f4f4f4" stroke-width="0.6"/><line x1="34.50" y1="471.40" x2="333.00" y2="471.40" stroke="#f4f4f4" stroke-width="0.6"/><line x1="34.50" y1="465.50" x2="34.50" y2="524.00" stroke="#ececec" stroke-width="0.8"/><line x1="109.15" y1="465.50" x2="109.15" y2="524.00" stroke="#ececec" stroke-width="0.8"/><line x1="183.80" y1="465.50" x2="183.80" y2="524.00" stroke="#ececec" stroke-width="0.8"/><line x1="258.45" y1="465.50" x2="258.45" y2="524.00" stroke="#ececec" stroke-width="0.8"/><line x1="333.10" y1="465.50" x2="333.10" y2="524.00" stroke="#ececec" stroke-width="0.8"/><line x1="34.50" y1="521.80" x2="333.00" y2="521.80" stroke="#ececec" stroke-width="0.8"/><line x1="34.50" y1="507.40" x2="333.00" y2="507.40" stroke="#ececec" stroke-width="0.8"/><line x1="34.50" y1="493.00" x2="333.00" y2="493.00" stroke="#ececec" stroke-width="0.8"/><line x1="34.50" y1="478.60" x2="333.00" y2="478.60" stroke="#ececec" stroke-width="0.8"/>
<line x1="34.50" y1="507.40" x2="333.00" y2="507.40" stroke="#6e6e6e" stroke-width="1"/>
<line x1="183.8" y1="472.60" x2="183.8" y2="506.90" stroke="#5a5a5a" stroke-width="1.2"/>
<rect x="183.0" y="472.90" width="1.6" height="1.8" fill="#333"/>
<rect x="183.0" y="504.80" width="1.6" height="1.8" fill="#333"/>
<path d="M34.00,510.40 C34.96,510.08 40.28,508.42 42.20,507.70 C44.12,506.98 48.58,505.09 50.50,504.20 C52.42,503.31 56.78,501.06 58.70,500.10 C60.62,499.14 65.31,496.77 67.00,496.00 C68.69,495.23 72.00,493.81 73.20,493.50 C74.40,493.19 76.10,493.18 77.30,493.30 C78.50,493.42 81.82,494.36 83.50,494.50 C85.18,494.64 89.78,494.62 91.70,494.50 C93.62,494.38 98.08,493.86 100.00,493.50 C101.92,493.14 106.57,491.90 108.20,491.40 C109.83,490.90 112.83,489.56 114.00,489.20 C115.17,488.84 116.74,488.77 118.20,488.30 C119.66,487.83 124.58,485.99 126.50,485.20 C128.43,484.41 132.53,482.46 134.70,481.50 C136.87,480.54 143.05,478.20 145.10,477.00 C147.15,475.80 150.74,471.92 152.30,471.20 C153.86,470.48 157.06,470.62 158.50,470.80 C159.94,470.98 163.04,472.34 164.60,472.70 C166.16,473.06 170.09,473.81 171.90,473.90 C173.71,473.99 178.20,473.55 180.10,473.50 C182.00,473.45 186.29,473.45 188.20,473.50 C190.11,473.55 194.81,474.05 196.50,473.90 C198.19,473.75 201.25,472.56 202.70,472.20 C204.15,471.84 207.45,470.89 208.90,470.80 C210.35,470.71 213.66,470.79 215.10,471.40 C216.53,472.01 219.52,475.06 221.20,476.00 C222.88,476.94 227.57,478.66 229.50,479.50 C231.43,480.34 235.77,482.36 237.70,483.20 C239.62,484.04 244.07,485.93 246.00,486.70 C247.93,487.47 252.57,489.25 254.20,489.80 C255.83,490.35 258.95,491.17 260.00,491.40 C261.05,491.63 261.61,491.51 263.20,491.80 C264.79,492.09 270.95,493.61 273.60,493.90 C276.25,494.19 283.74,494.37 285.90,494.30 C288.06,494.23 290.65,493.35 292.10,493.30 C293.55,493.25 296.62,493.35 298.30,493.90 C299.98,494.45 304.57,496.96 306.50,498.00 C308.43,499.04 313.11,501.88 314.80,502.80 C316.49,503.72 318.88,505.04 321.00,505.90 C323.12,506.76 331.60,509.70 333.00,510.20" fill="none" stroke="#ff2a2a" stroke-width="1.35"/>
<path d="M34.00,481.10 C34.72,480.98 38.75,480.24 40.20,480.10 C41.65,479.96 44.95,479.81 46.40,479.90 C47.85,479.99 50.92,480.64 52.60,480.90 C54.28,481.16 58.64,481.90 60.80,482.10 C62.96,482.30 68.93,482.60 71.10,482.60 C73.27,482.60 77.48,482.23 79.40,482.10 C81.33,481.97 85.67,481.52 87.60,481.50 C89.52,481.48 93.98,481.83 95.90,481.90 C97.83,481.97 101.99,481.86 104.10,482.10 C106.21,482.35 112.36,483.71 114.00,484.00 C115.64,484.29 116.74,484.29 118.20,484.60 C119.66,484.92 124.58,486.22 126.50,486.70 C128.43,487.18 132.77,488.34 134.70,488.70 C136.62,489.06 141.07,489.80 143.00,489.80 C144.93,489.80 149.27,488.63 151.20,488.70 C153.12,488.77 157.57,489.99 159.50,490.40 C161.43,490.81 166.02,492.22 167.70,492.20 C169.38,492.18 172.45,490.55 173.90,490.20 C175.35,489.85 178.43,489.25 180.10,489.20 C181.77,489.15 186.04,489.45 188.20,489.80 C190.36,490.15 196.43,492.13 198.60,492.20 C200.77,492.27 204.88,490.81 206.80,490.40 C208.73,489.99 213.17,488.77 215.10,488.70 C217.03,488.63 221.39,489.80 223.30,489.80 C225.21,489.80 229.57,489.06 231.50,488.70 C233.43,488.34 237.88,487.18 239.80,486.70 C241.73,486.22 245.64,485.08 248.00,484.60 C250.36,484.12 257.26,482.92 260.00,482.60 C262.74,482.29 269.20,482.07 271.50,481.90 C273.80,481.72 277.77,481.10 279.70,481.10 C281.62,481.10 286.07,481.72 288.00,481.90 C289.93,482.07 294.04,482.52 296.20,482.60 C298.36,482.68 304.08,482.85 306.50,482.60 C308.92,482.36 314.97,480.81 316.90,480.50 C318.82,480.19 321.12,479.85 323.00,479.90 C324.88,479.95 331.83,480.78 333.00,480.90" fill="none" stroke="#2222ff" stroke-width="1.35" stroke-dasharray="2.1 1.5"/>
</g>
<text x="184.9" y="484.89" font-size="6.4" fill="#333">+0.75</text>
<rect x="34.50" y="465.50" width="298.50" height="58.50" fill="none" stroke="#b8b8b8" stroke-width="1.2"/>
<line x1="33.90" y1="524.10" x2="333.60" y2="524.20" stroke="#b6b6b6" stroke-width="1.3"/>
<rect x="34.50" y="454.90" width="298.50" height="10.60" fill="#d9d9d9" stroke="#a8a8a8" stroke-width="0.9"/>
<line x1="34.50" y1="465.50" x2="333.00" y2="465.50" stroke="#a3a3a3" stroke-width="1.6"/>
<text x="184.2" y="462.26" font-size="6.30" fill="#1a1a1a" stroke="#1a1a1a" stroke-width="0.12" text-anchor="middle">+30.00 D</text>
<line x1="33.0" y1="521.80" x2="34.50" y2="521.80" stroke="#444" stroke-width="0.7"/>
<text x="32.0" y="523.52" font-size="4.80" fill="#4d4d4d" stroke="#4d4d4d" stroke-width="0.1" text-anchor="end">29.70</text>
<line x1="33.0" y1="507.40" x2="34.50" y2="507.40" stroke="#444" stroke-width="0.7"/>
<text x="32.0" y="509.12" font-size="4.80" fill="#4d4d4d" stroke="#4d4d4d" stroke-width="0.1" text-anchor="end">30.00</text>
<line x1="33.0" y1="493.00" x2="34.50" y2="493.00" stroke="#444" stroke-width="0.7"/>
<text x="32.0" y="494.72" font-size="4.80" fill="#4d4d4d" stroke="#4d4d4d" stroke-width="0.1" text-anchor="end">30.30</text>
<line x1="33.0" y1="478.60" x2="34.50" y2="478.60" stroke="#444" stroke-width="0.7"/>
<text x="32.0" y="480.32" font-size="4.80" fill="#4d4d4d" stroke="#4d4d4d" stroke-width="0.1" text-anchor="end">30.60</text>
<line x1="34.50" y1="524.00" x2="34.50" y2="525.50" stroke="#444" stroke-width="0.7"/>
<text x="34.50" y="530.42" font-size="4.80" fill="#4d4d4d" stroke="#4d4d4d" stroke-width="0.1" text-anchor="middle">-1.00</text>
<line x1="109.15" y1="524.00" x2="109.15" y2="525.50" stroke="#444" stroke-width="0.7"/>
<text x="109.15" y="530.42" font-size="4.80" fill="#4d4d4d" stroke="#4d4d4d" stroke-width="0.1" text-anchor="middle">-0.50</text>
<line x1="183.80" y1="524.00" x2="183.80" y2="525.50" stroke="#444" stroke-width="0.7"/>
<text x="183.80" y="530.42" font-size="4.80" fill="#4d4d4d" stroke="#4d4d4d" stroke-width="0.1" text-anchor="middle">0.00</text>
<line x1="258.45" y1="524.00" x2="258.45" y2="525.50" stroke="#444" stroke-width="0.7"/>
<text x="258.45" y="530.42" font-size="4.80" fill="#4d4d4d" stroke="#4d4d4d" stroke-width="0.1" text-anchor="middle">0.50</text>
<line x1="333.10" y1="524.00" x2="333.10" y2="525.50" stroke="#444" stroke-width="0.7"/>
<text x="333.10" y="530.42" font-size="4.80" fill="#4d4d4d" stroke="#4d4d4d" stroke-width="0.1" text-anchor="middle">1.00</text>
</g>

<text x="341.4" y="129.46" font-size="6.60" fill="#1a1a1a" stroke="#1a1a1a" stroke-width="0.12">IOL</text>
<line x1="342.8" y1="137.00" x2="350.1" y2="137.00" stroke="#ff3c3c" stroke-width="1.6"/>
<text x="353.5" y="139.86" font-size="6.60" fill="#1a1a1a" stroke="#1a1a1a" stroke-width="0.12">ISOPure</text>
<line x1="343.0" y1="145.80" x2="350.2" y2="145.80" stroke="#2a2aff" stroke-width="1.4" stroke-dasharray="1.7 2.2"/>
<text x="353.5" y="148.56" font-size="6.60" fill="#1a1a1a" stroke="#1a1a1a" stroke-width="0.12">MicroPure</text>

<text x="341.4" y="405.46" font-size="6.60" fill="#1a1a1a" stroke="#1a1a1a" stroke-width="0.12">IOL</text>
<line x1="342.8" y1="413.00" x2="350.1" y2="413.00" stroke="#ff3c3c" stroke-width="1.6"/>
<text x="353.5" y="415.86" font-size="6.60" fill="#1a1a1a" stroke="#1a1a1a" stroke-width="0.12">ISOPure</text>
<line x1="343.0" y1="421.80" x2="350.2" y2="421.80" stroke="#2a2aff" stroke-width="1.4" stroke-dasharray="1.7 2.2"/>
<text x="353.5" y="424.56" font-size="6.60" fill="#1a1a1a" stroke="#1a1a1a" stroke-width="0.12">MicroPure</text>


<text x="183.7" y="267.0" font-size="9.6" font-weight="bold" fill="#000" stroke="#000" stroke-width="0.15" text-anchor="middle">Distance from the IOL centre (mm)</text>
<text x="183.7" y="543.6" font-size="9.6" font-weight="bold" fill="#000" stroke="#000" stroke-width="0.15" text-anchor="middle">Distance from the IOL centre (mm)</text>
<text transform="translate(14.7,129.0) rotate(-90)" font-size="10" letter-spacing="-0.22" font-weight="bold" fill="#000" stroke="#000" stroke-width="0.15" text-anchor="middle">Average Radial Power (D)</text>
<text transform="translate(14.7,404.6) rotate(-90)" font-size="10" letter-spacing="-0.22" font-weight="bold" fill="#000" stroke="#000" stroke-width="0.15" text-anchor="middle">Average Radial Power (D)</text>
<text x="7.2" y="15.9" font-size="12.2" font-weight="bold" fill="#000" stroke="#000" stroke-width="0.35">A</text>
<text x="7.2" y="291.7" font-size="12.2" font-weight="bold" fill="#000" stroke="#000" stroke-width="0.35">B</text>

</svg>
</body></html>
